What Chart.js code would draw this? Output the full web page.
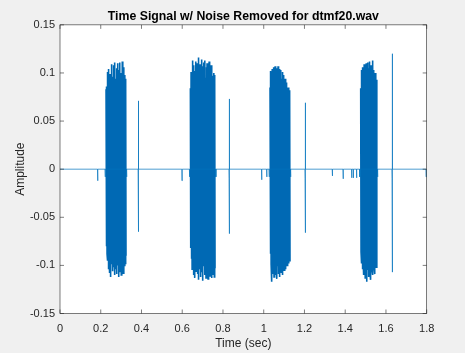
<!DOCTYPE html>
<html lang="en">
<head>
    <meta charset="UTF-8">
    <title>Time Signal w/ Noise Removed for dtmf20.wav</title>
    <script src="https://cdn.jsdelivr.net/npm/chart.js"></script>
    <style>
        body {
            margin: 0;
            background: #f0f0f0;
        }
        #wrap {
            width: 465px;
            height: 353px;
        }
    </style>
</head>
<body>

<div id="wrap">
    <canvas id="grafico" width="465" height="353"></canvas>
</div>

<script>
// tick values of the axes
const xTicks = [0, 0.2, 0.4, 0.6, 0.8, 1, 1.2, 1.4, 1.6, 1.8];
const yTicks = [-0.15, -0.1, -0.05, 0, 0.05, 0.1, 0.15];

// the four tone bursts: start / end time (sec) and the peaks
const burstTimes = [[0.226, 0.324], [0.640, 0.761], [1.031, 1.129], [1.476, 1.556]];
const burst1 = [0.083,-0.080,0.086,-0.088,0.101,-0.095,0.088,-0.104,0.104,-0.090,0.090,-0.108,0.099,-0.112,0.087,-0.098,
    0.109,-0.093,0.092,-0.106,0.096,-0.101,0.108,-0.089,0.088,-0.110,0.111,-0.097,0.094,-0.104,0.090,-0.109,0.105,-0.092,
    0.110,-0.100,0.089,-0.112,0.103,-0.094,0.111,-0.107,0.093,-0.099,0.100,-0.110,0.090,-0.095,0.112,-0.103,0.095,-0.108,
    0.106,-0.093,0.098,-0.101,0.092,-0.098,0.094,-0.090];
const burst2 = [0.084,-0.082,0.101,-0.093,0.097,-0.104,0.113,-0.092,0.090,-0.110,0.108,-0.098,0.102,-0.113,0.093,-0.101,
    0.112,-0.106,0.096,-0.095,0.110,-0.109,0.099,-0.115,0.116,-0.098,0.094,-0.104,0.109,-0.112,0.101,-0.096,0.114,-0.107,
    0.092,-0.116,0.107,-0.100,0.111,-0.093,0.098,-0.110,0.113,-0.104,0.095,-0.113,0.106,-0.098,0.110,-0.108,0.097,-0.114,
    0.104,-0.101,0.112,-0.095,0.100,-0.111,0.094,-0.106,0.108,-0.113,0.099,-0.102,0.097,-0.110,0.093,-0.104,0.100,-0.112,
    0.098,-0.103];
const burst3 = [0.085,-0.088,0.102,-0.099,0.091,-0.117,0.104,-0.095,0.088,-0.108,0.106,-0.112,0.093,-0.097,0.107,-0.110,
    0.099,-0.090,0.105,-0.114,0.090,-0.101,0.107,-0.109,0.096,-0.093,0.104,-0.112,0.089,-0.103,0.103,-0.107,0.094,-0.096,
    0.101,-0.110,0.090,-0.099,0.098,-0.105,0.087,-0.093,0.094,-0.104,0.086,-0.097,0.090,-0.100,0.083,-0.095,0.085,-0.098,
    0.080,-0.092,0.082,-0.096];
const burst4 = [0.084,-0.086,0.103,-0.098,0.092,-0.104,0.106,-0.093,0.090,-0.110,0.109,-0.101,0.095,-0.113,0.104,-0.096,
    0.110,-0.117,0.093,-0.104,0.111,-0.099,0.098,-0.112,0.105,-0.094,0.112,-0.108,0.092,-0.115,0.108,-0.100,0.096,-0.106,
    0.113,-0.110,0.099,-0.097,0.103,-0.104,0.094,-0.109,0.100,-0.099,0.097,-0.102,0.093,-0.098];

// single clicks between the tones
const spikeTimes = [0.385, 0.831, 1.204, 1.631];
const spikeHigh = [0.071, 0.073, 0.069, 0.120];
const spikeLow = [-0.065, -0.067, -0.066, -0.107];

// small negative blips on the baseline
const blipTimes = [0.185, 0.222, 0.327, 0.599, 0.636, 0.765, 0.99, 1.015, 1.027, 1.132, 1.337, 1.39, 1.432, 1.44, 1.456, 1.472, 1.559, 1.797];
const blipValues = [-0.012, -0.008, -0.008, -0.012, -0.008, -0.008, -0.011, -0.008, -0.008, -0.008, -0.007, -0.010, -0.009, -0.009, -0.009, -0.008, -0.008, -0.008];

// baseline with the clicks and blips, pieces sorted by time
const pezzi = [];
spikeTimes.forEach((t, k) => {
    pezzi.push([{x: t - 0.001, y: -0.010}, {x: t, y: spikeHigh[k]}, {x: t, y: spikeLow[k]}, {x: t + 0.001, y: -0.012}]);
});
blipTimes.forEach((t, k) => {
    pezzi.push([{x: t, y: blipValues[k]}]);
});
pezzi.sort((a, b) => a[0].x - b[0].x);

const linea = [{x: 0, y: 0}];
pezzi.forEach(p => {
    linea.push({x: p[0].x - 0.0008, y: 0});
    p.forEach(pt => linea.push(pt));
    linea.push({x: p[p.length - 1].x + 0.0008, y: 0});
});
linea.push({x: 1.8, y: 0});

// the tone bursts, one broken line (null between bursts)
const toni = [];
[burst1, burst2, burst3, burst4].forEach((b, k) => {
    const [t0, t1] = burstTimes[k];
    b.forEach((v, i) => toni.push({x: t0 + i * (t1 - t0) / (b.length - 1), y: v}));
    toni.push({x: t1 + 0.001, y: null});
});

const fmt = v => String(Number(v.toFixed(2)));
const FONT = 'Arial, "Liberation Sans", Helvetica, sans-serif';

// background, box and inward tick marks like MATLAB
const boxPlugin = {
    id: 'box',
    beforeDraw(chart) {
        const c = chart.ctx, a = chart.chartArea;
        c.save();
        c.fillStyle = '#f0f0f0';
        c.fillRect(0, 0, chart.width, chart.height);
        c.fillStyle = '#ffffff';
        c.fillRect(a.left, a.top, a.right - a.left, a.bottom - a.top);
        c.restore();
    },
    afterDraw(chart) {
        const c = chart.ctx, a = chart.chartArea;
        const xs = chart.scales.x, ys = chart.scales.y;
        c.save();
        c.strokeStyle = '#262626';
        c.lineWidth = 0.6;
        c.strokeRect(a.left, a.top, a.right - a.left, a.bottom - a.top);
        c.beginPath();
        xTicks.forEach(v => {
            const px = xs.getPixelForValue(v);
            c.moveTo(px, a.bottom); c.lineTo(px, a.bottom - 4);
            c.moveTo(px, a.top); c.lineTo(px, a.top + 4);
        });
        yTicks.forEach(v => {
            const py = ys.getPixelForValue(v);
            c.moveTo(a.left, py); c.lineTo(a.left + 4, py);
            c.moveTo(a.right, py); c.lineTo(a.right - 4, py);
        });
        c.stroke();
        c.restore();
    }
};

let ctx = document.getElementById('grafico').getContext('2d');
let chart = new Chart(ctx, {
    type: 'line',
    data: {
        datasets: [{
            label: 'Segnale',
            data: linea,
            borderColor: '#0072BD',
            borderWidth: 0.7,
            pointRadius: 0,
            tension: 0,
            fill: false
        }, {
            label: 'Toni',
            data: toni,
            borderColor: '#0069B4',
            borderWidth: 1.6,
            pointRadius: 0,
            tension: 0,
            spanGaps: false,
            fill: false
        }]
    },
    options: {
        responsive: false,
        animation: false,
        events: [],
        layout: {padding: {left: 0, right: 38.3, top: 0, bottom: 0}},
        plugins: {
            legend: {display: false},
            tooltip: {enabled: false},
            title: {
                display: true,
                fullSize: false,
                text: 'Time Signal w/ Noise Removed for dtmf20.wav',
                color: '#000000',
                font: {family: FONT, size: 12.3, weight: 'bold'},
                padding: {top: 9, bottom: 1.1}
            }
        },
        scales: {
            x: {
                type: 'linear',
                min: 0,
                max: 1.8,
                afterBuildTicks: s => { s.ticks = xTicks.map(v => ({value: v})); },
                afterFit: s => { s.height = 39.5; },
                grid: {display: false, drawTicks: false},
                border: {display: false},
                ticks: {color: '#262626', font: {family: FONT, size: 11}, padding: 9, maxRotation: 0, callback: v => fmt(v)},
                title: {display: true, text: 'Time (sec)', color: '#262626', font: {family: FONT, size: 12}, padding: {top: 0, bottom: 2}}
            },
            y: {
                min: -0.15,
                max: 0.15,
                afterBuildTicks: s => { s.ticks = yTicks.map(v => ({value: v})); },
                afterFit: s => { s.width = 60; },
                grid: {display: false, drawTicks: false},
                border: {display: false},
                ticks: {color: '#262626', font: {family: FONT, size: 11}, padding: 5, callback: v => fmt(v)},
                title: {display: true, text: 'Amplitude', color: '#262626', font: {family: FONT, size: 12}, padding: {top: 13, bottom: 0}}
            }
        }
    },
    plugins: [boxPlugin]
});
</script>

</body>
</html>
